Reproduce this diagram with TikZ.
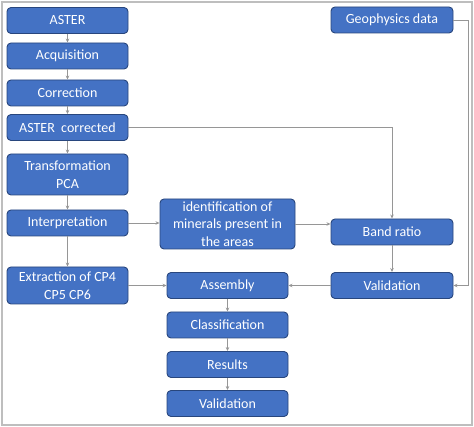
\documentclass[tikz,border=0pt]{standalone}
\usepackage{fontspec}
\setmainfont{Carlito}
\usetikzlibrary{arrows.meta}

\definecolor{boxfill}{RGB}{68,114,196}
\definecolor{boxedge}{RGB}{40,70,125}
\definecolor{linkgray}{RGB}{150,150,150}
\definecolor{framegray}{RGB}{190,190,190}

\begin{document}
\begin{tikzpicture}[x=1pt, y=-1pt,
    box/.style={draw=boxedge, fill=boxfill, rounded corners=4pt, line width=0.9pt,
      text=white, minimum width=121pt, minimum height=26pt, inner sep=1pt,
      font=\fontsize{14}{17.5}\selectfont, align=center},
    link/.style={draw=linkgray, line width=0.8pt, -{Stealth[length=4pt, width=3.5pt]}}]
      \useasboundingbox (0, 0) rectangle (474, 427);
      \draw [framegray, line width=2.5pt] (2, 2) rectangle (472, 425);
      % left column
      \node [box] (aster) at (67.5, 20.5) {ASTER};
      \node [box] (acq) at (67.5, 56) {Acquisition};
      \node [box] (corr) at (67.5, 93) {Correction};
      \node [box] (astercorr) at (67.5, 127.5) {ASTER\ \ corrected};
      \node [box, minimum height=41pt] (pca) at (67.5, 174.5) {Transformation\\PCA};
      \node [box] (interp) at (67.5, 223) {Interpretation};
      \node [box, minimum height=37pt] (extr) at (67.5, 285.5) {Extraction of CP4\\CP5 CP6};
      % middle column
      \node [box, minimum width=135pt, minimum height=50pt] (ident) at (227.5, 224)
        {identification of\\minerals present in\\the areas};
      \node [box] (assembly) at (227.5, 285.5) {Assembly};
      \node [box] (classif) at (227.5, 325) {Classification};
      \node [box] (results) at (227.5, 364.5) {Results};
      \node [box] (valid) at (227.5, 403.5) {Validation};
      % right column
      \node [box, minimum width=122pt] (geo) at (392, 20) {Geophysics data};
      \node [box, minimum width=122pt] (band) at (392, 232) {Band ratio};
      \node [box, minimum width=122pt] (validr) at (392, 285.5) {Validation};
      \coordinate (georight) at (468, 20);
      % links
      \draw [link] (aster) -- (acq);
      \draw [link] (acq) -- (corr);
      \draw [link] (corr) -- (astercorr);
      \draw [link] (astercorr) -- (pca);
      \draw [link] (pca) -- (interp);
      \draw [link] (interp) -- (extr);
      \draw [link] (interp.east) -- (interp.east -| ident.west);
      \draw [link] (ident.east) -- (ident.east -| band.west);
      \draw [link] (astercorr.east) -| (band.north);
      \draw [link] (band) -- (validr);
      \draw [link] (geo.east) -- (georight) |- (validr.east);
      \draw [link] (validr) -- (assembly);
      \draw [link] (extr.east) -- (extr.east -| assembly.west);
      \draw [link] (assembly) -- (classif);
      \draw [link] (classif) -- (results);
      \draw [link] (results) -- (valid);
    \end{tikzpicture}
\end{document}
